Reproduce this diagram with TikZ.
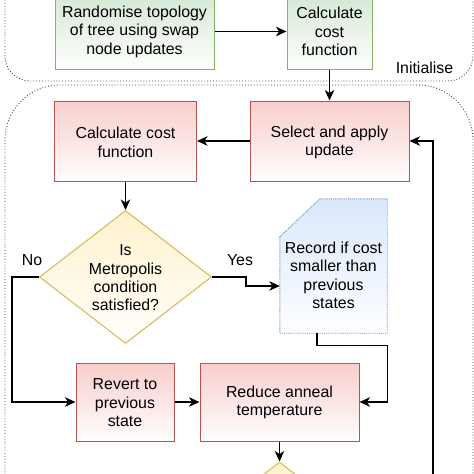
\documentclass[tikz,border=0pt]{standalone}
\usepackage{fontspec}
\setmainfont{Liberation Sans}
\usetikzlibrary{arrows.meta,shapes.geometric,calc}
\definecolor{grfill}{HTML}{D5E8D4}\definecolor{grline}{HTML}{82B366}
\definecolor{rdfill}{HTML}{F8CECC}\definecolor{rdline}{HTML}{B85450}
\definecolor{ylfill}{HTML}{FFF2CC}\definecolor{ylline}{HTML}{D6B656}
\definecolor{blfill}{HTML}{DAE8FC}\definecolor{blline}{HTML}{6C8EBF}
\tikzset{
  txt/.style={font=\fontsize{15.9}{18.4}\selectfont, align=center, inner sep=0pt},
  greenbox/.style={draw=grline, line width=1pt, top color=grfill, bottom color=white!97!grfill, rectangle, inner sep=0pt},
  redbox/.style={draw=rdline, line width=1pt, top color=rdfill, bottom color=white!97!rdfill, rectangle, inner sep=0pt},
  yellowdia/.style={draw=ylline, line width=1pt, top color=ylfill, bottom color=white!95!ylfill, diamond, inner sep=0pt},
  container/.style={draw=black!75, line width=0.9pt, dotted},
  arr/.style={draw=black, line width=1.3pt, -{Stealth[length=10.5pt,width=9.5pt,inset=3pt]}},
}
\begin{document}
\begin{tikzpicture}[x=1pt,y=-1pt]
\useasboundingbox (0,0) rectangle (474,474);
\clip (0,0) rectangle (474,474);
% containers
\draw[container, rounded corners=25pt] (5,-60) rectangle (473,81);
\draw[container, rounded corners=55pt] (5,85) rectangle (473,640);
\node[txt, anchor=center] (initlbl) at (424.5,68) {Initialise};
% top row
\node[greenbox, minimum width=159pt, minimum height=75pt] (rand) at (134.5,31.5) {};
\node[txt] (randt) at (rand.center) {Randomise topology\\of tree using swap\\node updates};
\node[greenbox, minimum width=85pt, minimum height=75pt] (calc1) at (329.5,31.5) {};
\node[txt] (calc1t) at (calc1.center) {Calculate\\cost\\function};
% loop row
\node[redbox, minimum width=142pt, minimum height=80pt] (calc2) at (125.5,141) {};
\node[txt] (calc2t) at ($(calc2.center)+(0,1.5)$) {Calculate cost\\function};
\node[redbox, minimum width=159pt, minimum height=80pt] (sel) at (329.5,141) {};
\node[txt] (selt) at ($(sel.center)+(0,1.5)$) {Select and apply\\update};
% diamond
\node[yellowdia, minimum width=172pt, minimum height=133pt] (dia) at (125.5,277) {};
\node[txt] (diat) at ($(dia.center)+(0,1)$) {Is\\Metropolis\\condition\\satisfied?};
% card
\node[minimum width=107pt, minimum height=134pt, inner sep=0pt] (card) at (333.5,266) {};
\path[draw=blline, line width=0.9pt, densely dotted, top color=blfill, bottom color=white!95!blfill]
  ($(card.north west)+(0,38)$) -- ($(card.north west)+(40,0)$) -- (card.north east) -- (card.south east) -- (card.south west) -- cycle;
\node[txt] (cardt) at ($(card.center)+(0,9.5)$) {Record if cost\\smaller than\\previous\\states};
% bottom row
\node[redbox, minimum width=98pt, minimum height=78pt] (rev) at (125,402) {};
\node[txt] (revt) at ($(rev.center)+(0,1)$) {Revert to\\previous\\state};
\node[redbox, minimum width=159pt, minimum height=78pt] (red) at (279.5,402) {};
\node[txt] (redt) at ($(red.center)+(0,0.5)$) {Reduce anneal\\temperature};
\node[yellowdia, minimum width=172pt, minimum height=133pt] (dia2) at (279.5,528.5) {};
% labels
\node[txt] (nolbl) at (32,260) {No};
\node[txt] (yeslbl) at (240,260) {Yes};
% connectors
\draw[arr] (rand.east) -- (calc1.west);
\draw[arr] (calc1.south) -- (sel.north);
\draw[arr] (sel.west) -- (calc2.east);
\draw[arr] (calc2.south) -- (dia.north);
\coordinate (loopin) at (433,500);
\draw[arr] (loopin) |- (sel.east);
\draw[arr] (dia.west) -- ++(-27,0) |- (rev.west);
\draw[arr] (dia.east) -- ++(34,0) |- ($(card.west)+(0,20)$);
\draw[arr] ($(card.south)+(-16.5,0)$) -- ++(0,12) -| ($(red.east)+(28,0)$) -- (red.east);
\draw[arr] (rev.east) -- (red.west);
\draw[arr] (red.south) -- (dia2.north);
\end{tikzpicture}
\end{document}
